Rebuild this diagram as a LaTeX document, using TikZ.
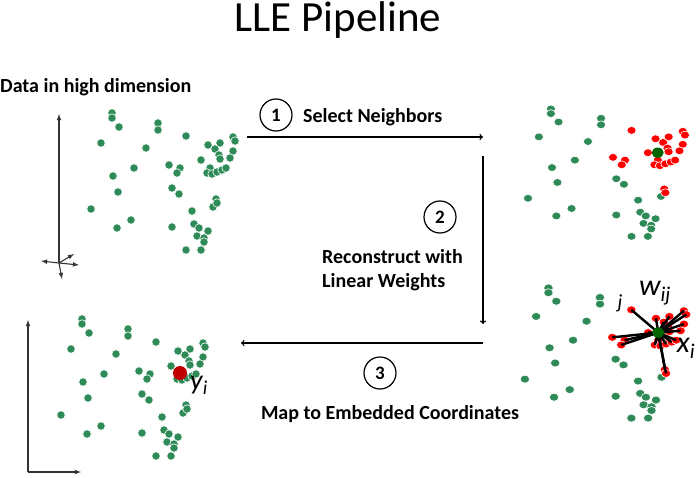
\documentclass[tikz,border=0pt]{standalone}
\usepackage{fontspec}
\setmainfont{Carlito}
\usepackage{xcolor}
\usetikzlibrary{arrows,positioning,calc}
\definecolor{ptgreen}{RGB}{46,139,87}
\definecolor{ptred}{RGB}{255,0,0}
\definecolor{ctrgreen}{RGB}{0,100,0}
\definecolor{yred}{RGB}{192,0,0}
\def\farpts{112/113,112/118,119/127,158/123,158/130,101/143,146/148,134/168,113/176,118/192,172/188,179/194,91/209,192/211,131/220,117/228,172/227,194/224,199/228,208/231,197/236,204/238,204/242,186/250,201/250,213/207}
\def\nearpts{186/136,208/145,220/143,215/149,233/137,235/141,233/151,219/155,220/159,230/158,201/160,210/168,207/173,212/174,217/172,222/170,226/168,169/165,180/168,177/173,216/199,217/203}
\tikzset{
  pt/.style={fill=ptgreen, draw=white, line width=0.6pt},
  nb/.style={fill=ptred, draw=white, line width=0.6pt},
  stepnum/.style={circle, draw, line width=1.2pt, minimum size=32pt, inner sep=0pt, font=\fontsize{19}{19}\selectfont\bfseries},
  lbl/.style={font=\fontsize{20}{24}\selectfont\bfseries},
  flow/.style={->, line width=1.3pt},
  axis/.style={-latex, line width=1.1pt, black!80}
}

\begin{document}
\begin{tikzpicture}[x=1pt,y=-1pt]
\useasboundingbox (0,0) rectangle (700,478);
\node (title) at (338,32) [anchor=base, font=\fontsize{43}{43}\selectfont] {LLE Pipeline};
\node (data) at (0,93) [anchor=base west, inner sep=0pt, lbl] {Data in high dimension};
% high dimensional data
\coordinate (o1) at (59,263);
\draw[axis] (o1) -- (59,114);
\foreach \ex/\ey in {41/261,79/265,74/254,62/279}
  \draw[axis] (o1) -- (\ex,\ey);
\foreach \x/\y in \farpts \draw[pt] (\x,\y) circle (4.2pt);
\foreach \x/\y in \nearpts \draw[pt] (\x,\y) circle (4.2pt);
% neighbours
\begin{scope}[shift={(428.8,3.9)}, xscale=1.09, yscale=0.93]
\foreach \x/\y in \farpts \draw[pt] (\x,\y) circle (4.2pt);
\foreach \x/\y in \nearpts \draw[nb] (\x,\y) circle (4.2pt);
\fill[ctrgreen] (210,160) circle (5.5pt);
\end{scope}
% weights
\begin{scope}[shift={(423,180.6)}, xscale=1.12, yscale=0.95]
\coordinate (xi) at (210,160);
\foreach \x/\y in \farpts \draw[pt] (\x,\y) circle (4.2pt);
\foreach \x/\y in \nearpts \draw[nb] (\x,\y) circle (4.2pt);
\foreach \x/\y in \nearpts \draw[line width=2.4pt] (xi) -- (\x,\y);
\fill[ctrgreen] (xi) circle (5.5pt);
\end{scope}
\node (wij) at (655,293) [font=\fontsize{30}{30}\selectfont\itshape] {w\textsubscript{ij}};
\node (j) at (620,303) [font=\fontsize{20}{20}\selectfont\itshape] {j};
\node (xlab) at (686,348) [font=\fontsize{30}{30}\selectfont\itshape] {x\textsubscript{i}};
% embedded
\coordinate (o2) at (28,472);
\draw[axis] (o2) -- (28,320);
\draw[axis] (o2) -- (81,472);
\begin{scope}[shift={(-30,206)}]
\foreach \x/\y in \farpts \draw[pt] (\x,\y) circle (4.2pt);
\foreach \x/\y in \nearpts \draw[pt] (\x,\y) circle (4.2pt);
\fill[yred] (210,167) circle (7pt);
\end{scope}
\node (ylab) at (199,385) [font=\fontsize{28}{28}\selectfont\itshape] {y\textsubscript{i}};
% pipeline steps
\coordinate (a1) at (247,137);
\coordinate (a2) at (483,137);
\coordinate (b1) at (483,156);
\coordinate (b2) at (483,324);
\coordinate (c1) at (483,343);
\coordinate (c2) at (241,343);
\draw[flow] (a1) -- (a2);
\draw[flow] (b1) -- (b2);
\draw[flow] (c1) -- (c2);
\node (s1) at (276,115) [stepnum] {1};
\node (t1) at (303,123) [anchor=base west, inner sep=0pt, lbl] {Select Neighbors};
\node (s2) at (440,217) [stepnum] {2};
\node (t2) at (322,287) [anchor=base west, inner sep=0pt, lbl, align=left] {Reconstruct with\\Linear Weights};
\node (s3) at (380,373) [stepnum] {3};
\node (t3) at (390,419) [anchor=base, inner sep=0pt, lbl] {Map to Embedded Coordinates};
\end{tikzpicture}
\end{document}
